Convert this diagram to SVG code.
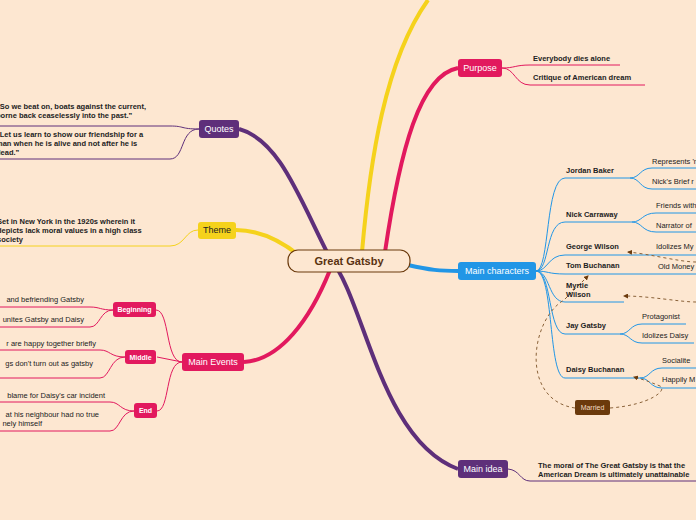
<svg xmlns="http://www.w3.org/2000/svg" width="696" height="520" viewBox="0 0 696 520">
<defs>
<style>
.t{font-family:"Liberation Sans",Arial,sans-serif;font-size:7.5px;fill:#222}
.b{font-weight:bold}
.n{font-family:"Liberation Sans",Arial,sans-serif;font-size:9px;fill:#fff;text-anchor:middle}
.s{font-family:"Liberation Sans",Arial,sans-serif;font-size:7px;fill:#fff;text-anchor:middle;font-weight:bold}
.pk{stroke:#e2195e;fill:none;stroke-width:1}
.pu{stroke:#5e2f7a;fill:none;stroke-width:1}
.ye{stroke:#f5d21c;fill:none;stroke-width:1}
.bl{stroke:#2196e6;fill:none;stroke-width:1}
.da{stroke:#8a6239;fill:none;stroke-width:1;stroke-dasharray:3 3}
</style>
<marker id="ar" viewBox="0 0 10 10" refX="8" refY="5" markerWidth="5" markerHeight="5" orient="auto"><path d="M0,0L10,5L0,10z" fill="#6b3a0c"/></marker>
</defs>
<rect width="696" height="520" fill="#fde7d1"/>
<g id="connectors">
<path d="M330,258 C365,300 380,440 458,469" stroke="#5e2f7a" stroke-width="4" fill="none"/>
<path d="M330,258 C300,200 280,140 239,129" stroke="#5e2f7a" stroke-width="4" fill="none"/>
<path d="M300,256 C280,240 260,230 236,230" stroke="#f5d21c" stroke-width="4" fill="none"/>
<path d="M362,252 C370,160 385,60 428,0" stroke="#f5d21c" stroke-width="4" fill="none"/>
<path d="M385,252 C400,150 420,75 458,68" stroke="#e2195e" stroke-width="4" fill="none"/>
<path d="M330,270 C310,320 280,360 244,362" stroke="#e2195e" stroke-width="4" fill="none"/>
<path d="M408,265 C430,270 440,271 458,271" stroke="#2196e6" stroke-width="4" fill="none"/>
<path class="pk" d="M502,68 C515,68 515,65 530,65 L620,65 M502,68 C515,68 515,85 530,85 L645,85"/>
<path class="pu" d="M508,469 C520,470 520,481 530,481 L696,481"/>
<path class="pu" d="M199,129 C180,129 185,126 170,126 L0,126 M199,129 C180,129 185,159 170,159 L0,159"/>
<path class="ye" d="M198,230 C185,230 185,246 170,246 L0,246"/>
<path class="pk" d="M182,362 C165,362 170,310 156,310 M182,362 L157,357 M182,362 C165,362 170,411 157,411"/>
<path class="pk" d="M113,310 C100,310 100,307 90,307 L0,307 M113,310 C100,310 100,327 90,327 L0,327"/>
<path class="pk" d="M125,357 C110,357 110,350 100,350 L0,350 M125,357 C110,357 110,378 100,378 L0,378"/>
<path class="pk" d="M134,411 C120,411 120,402 110,402 L0,402 M134,411 C120,411 120,431 110,431 L0,431"/>
<path class="bl" d="M536,271 C550,271 545,178 565,178 L630,178 M536,271 C550,271 545,222 565,222 L632,222 M536,271 C548,271 548,255 565,255 L696,255 M536,271 C548,271 548,274 565,274 L696,274 M536,271 C550,271 548,302 565,302 L624,302 M536,271 C552,271 548,334 565,334 L620,334 M536,271 C554,271 548,378 565,378 L640,378"/>
<path class="bl" d="M630,178 C640,178 640,168 652,168 L696,168 M630,178 C640,178 640,189 652,189 L696,189 M632,222 C642,222 642,213 656,213 L696,213 M632,222 C642,222 642,232 656,232 L696,232 M620,334 C630,334 630,324 642,324 L686,324 M620,334 C630,334 630,343 642,343 L694,343 M640,378 C650,378 650,368 662,368 L696,368 M640,378 C650,378 650,388 662,388 L696,388"/>
<path class="da" d="M696,262 C680,262 650,254 628,252" marker-end="url(#ar)"/>
<path class="da" d="M696,302 C680,302 650,296 624,296" marker-end="url(#ar)"/>
<path class="da" d="M575,408 C520,400 530,320 564,300 L588,276" marker-end="url(#ar)"/>
<path class="da" d="M610,408 C650,405 668,390 660,386 C650,382 645,380 634,377" marker-end="url(#ar)"/>
</g>
<g id="center"><rect x="288" y="250" width="122" height="22" rx="10" fill="#fde7d1" stroke="#6b3a0c" stroke-width="1.2"/><text x="349" y="265" text-anchor="middle" font-family="Liberation Sans,Arial,sans-serif" font-size="11" font-weight="bold" fill="#5a3210">Great Gatsby</text></g>
<g id="purpose"><rect x="458" y="59" width="44" height="18" rx="3" fill="#e2195e"/><text class="n" x="480" y="71">Purpose</text></g>
<g id="mainchars"><rect x="458" y="262" width="78" height="18" rx="3" fill="#2196e6"/><text class="n" x="497" y="274">Main characters</text></g>
<g id="mainidea"><rect x="458" y="460" width="50" height="18" rx="3" fill="#5e2f7a"/><text class="n" x="483" y="472">Main idea</text></g>
<g id="quotes"><rect x="199" y="120" width="40" height="18" rx="3" fill="#5e2f7a"/><text class="n" x="219" y="132">Quotes</text></g>
<g id="theme"><rect x="198" y="222" width="38" height="17" rx="3" fill="#f5d21c"/><text class="n" x="217" y="233" style="fill:#222">Theme</text></g>
<g id="events"><rect x="182" y="353" width="62" height="18" rx="3" fill="#e2195e"/><text class="n" x="213" y="365">Main Events</text></g>
<g id="beginning"><rect x="113" y="302" width="43" height="15" rx="3" fill="#e2195e"/><text class="s" x="134.5" y="312">Beginning</text></g>
<g id="middle"><rect x="125" y="350" width="31" height="14" rx="3" fill="#e2195e"/><text class="s" x="140.5" y="360">Middle</text></g>
<g id="end"><rect x="134" y="403" width="23" height="15" rx="3" fill="#e2195e"/><text class="s" x="145.5" y="413">End</text></g>
<g id="married"><rect x="575" y="400" width="35" height="15" rx="2" fill="#6b3a0c"/><text x="592.5" y="410" text-anchor="middle" font-family="Liberation Sans,Arial,sans-serif" font-size="7" fill="#f3dcc3">Married</text></g>
<g id="texts">
<text class="t b" x="533" y="61">Everybody dies alone</text>
<text class="t b" x="533" y="80">Critique of American dream</text>
<text class="t b" x="538" y="468">The moral of The Great Gatsby is that the</text>
<text class="t b" x="538" y="477">American Dream is ultimately unattainable</text>
<text class="t b" x="-4" y="109">“So we beat on, boats against the current,</text>
<text class="t b" x="-4" y="118">borne back ceaselessly into the past.”</text>
<text class="t b" x="-4" y="137">“Let us learn to show our friendship for a</text>
<text class="t b" x="-4" y="146">man when he is alive and not after he is</text>
<text class="t b" x="-4" y="155">dead.”</text>
<text class="t b" x="-3" y="224">Set in New York in the 1920s wherein it</text>
<text class="t b" x="-3" y="233">depicts lack moral values in a high class</text>
<text class="t b" x="-3" y="242">society</text>
<text class="t" x="84" y="302" text-anchor="end">and befriending Gatsby</text>
<text class="t" x="84" y="322" text-anchor="end">unites Gatsby and Daisy</text>
<text class="t" x="96" y="346" text-anchor="end">r are happy together briefly</text>
<text class="t" x="93" y="366" text-anchor="end">gs don't turn out as gatsby</text>
<text class="t" x="105" y="398" text-anchor="end">blame for Daisy's car incident</text>
<text class="t" x="99" y="417" text-anchor="end">at his neighbour had no true</text>
<text class="t" x="42" y="426" text-anchor="end">nely himself</text>
<text class="t b" x="566" y="173">Jordan Baker</text>
<text class="t b" x="566" y="217">Nick Carraway</text>
<text class="t b" x="566" y="249">George Wilson</text>
<text class="t b" x="566" y="268">Tom Buchanan</text>
<text class="t b" x="566" y="288">Myrtle</text>
<text class="t b" x="566" y="297">Wilson</text>
<text class="t b" x="566" y="328">Jay Gatsby</text>
<text class="t b" x="566" y="372">Daisy Buchanan</text>
<text class="t" x="652" y="164">Represents 'n</text>
<text class="t" x="652" y="184">Nick's Brief r</text>
<text class="t" x="656" y="208">Friends with</text>
<text class="t" x="656" y="228">Narrator of</text>
<text class="t" x="656" y="249">Idolizes My</text>
<text class="t" x="658" y="269">Old Money</text>
<text class="t" x="642" y="319">Protagonist</text>
<text class="t" x="642" y="338">Idolizes Daisy</text>
<text class="t" x="662" y="363">Socialite</text>
<text class="t" x="662" y="382">Happily M</text>
</g>
</svg>
